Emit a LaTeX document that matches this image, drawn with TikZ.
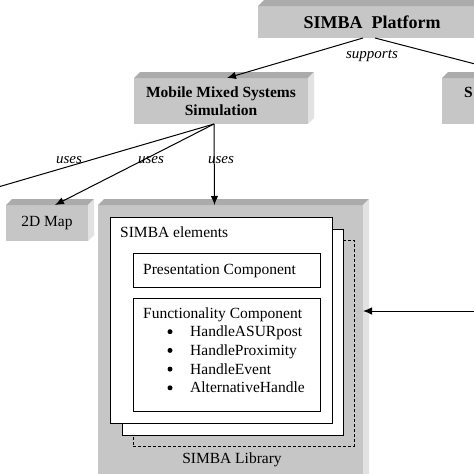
\documentclass[tikz,border=0pt]{standalone}
\usepackage{fontspec}
\setmainfont{Liberation Serif}
\usetikzlibrary{arrows.meta,positioning}
\definecolor{frontgray}{HTML}{C6C6C6}
\definecolor{topgray}{HTML}{ABABAB}
\definecolor{sidegray}{HTML}{E2E2E2}

\begin{document}
\begin{tikzpicture}[x=1pt,y=-1pt,
	  block/.style={fill=frontgray, inner sep=0pt, outer sep=0pt, align=center,
	    font=\fontsize{15.5}{18}\selectfont\bfseries},
	  sheet/.style={draw, line width=1pt, fill=white, inner sep=0pt, outer sep=0pt},
	  txt/.style={inner sep=0pt, font=\fontsize{15.5}{18}\selectfont},
	  lbl/.style={inner sep=0pt, font=\fontsize{15}{18}\selectfont\itshape},
	  dot/.style={circle, fill, inner sep=0pt, minimum size=5pt},
	  rel/.style={line width=1pt, -{Latex[length=9pt,width=7.5pt]}}]
	  \useasboundingbox (0,0) rectangle (474,474);
	  \clip (0,0) rectangle (474,474);
	  % 3D boxes
	  \node[block, minimum width=228, minimum height=32,
	    font=\fontsize{18}{20}\selectfont\bfseries] (plat) at (372,22) {SIMBA\ \ Platform};
	  \node[block, minimum width=174, minimum height=46] (mms) at (221,101)
	    {Mobile Mixed Systems\\Simulation};
	  \node[block, minimum width=174, minimum height=46] (sup) at (529,101) {};
	  \node[block, minimum width=82, minimum height=36, font=\fontsize{15.5}{18}\selectfont] (map) at (47,223) {2D Map};
	  \node[block, minimum width=265, minimum height=275] (lib) at (230.5,342.5) {};
	  \foreach \n in {plat,mms,sup,map,lib} {
	    \fill[topgray] (\n.north west) -- ++(6,-6) -- ([shift={(6,-6)}]\n.north east)
	      -- (\n.north east) -- cycle;
	    \fill[sidegray] (\n.north east) -- ++(6,-6) -- ([shift={(6,-6)}]\n.south east)
	      -- (\n.south east) -- cycle;
	  }
	  \node[txt, anchor=base west, font=\fontsize{15.5}{18}\selectfont\bfseries] (suptext) at (464,97) {S};
	  % stacked sheets of the library
	  \node[draw, line width=1pt, dash pattern=on 3pt off 2pt, inner sep=0pt,
	    minimum width=221, minimum height=206] (copy2) at (243.5,343) {};
	  \node[sheet, minimum width=221, minimum height=206] (copy1) at (232.5,332) {};
	  \node[sheet, minimum width=222, minimum height=206] (elems) at (221,320) {};
	  \node[txt, anchor=base west] (elemstext) at (120,237) {SIMBA elements};
	  \node[sheet, minimum width=187, minimum height=34] (pres) at (226.5,270) {};
	  \node[txt, anchor=base west] (prestext) at (143,274) {Presentation Component};
	  \node[sheet, minimum width=187, minimum height=113] (func) at (226.5,354.5) {};
	  \node[txt, anchor=base west] (functext) at (143,318) {Functionality Component};
	  \foreach \item [count=\i] in {HandleASURpost,HandleProximity,HandleEvent,AlternativeHandle} {
	    \node[dot] (dot\i) at (170,313+18.7*\i) {};
	    \node[txt, anchor=base west] (item\i) at (190,318+18.7*\i) {\item};
	  }
	  \node[txt, anchor=base] (libtext) at (232,463) {SIMBA Library};
	  % connectors
	  \coordinate (offleft) at (-60,204);
	  \coordinate (offright) at (480,311);
	  \draw[rel] ([xshift=-9]plat.south) -- ([xshift=6]mms.north);
	  \draw[rel] ([xshift=3]plat.south) -- (sup.north);
	  \draw[rel] ([xshift=-7]mms.south) -- (offleft);
	  \draw[rel] ([xshift=-7]mms.south) -- ([xshift=8]map.north);
	  \draw[rel] ([xshift=-7]mms.south) -- ([xshift=-16]lib.north);
	  \draw[rel] (offright) -- (offright -| lib.east);
	  \node[lbl, anchor=base] (supports) at (372,58) {supports};
	  \node[lbl, anchor=base] (uses1) at (69,163) {uses};
	  \node[lbl, anchor=base] (uses2) at (151,163) {uses};
	  \node[lbl, anchor=base] (uses3) at (221,163) {uses};
	\end{tikzpicture}
\end{document}
